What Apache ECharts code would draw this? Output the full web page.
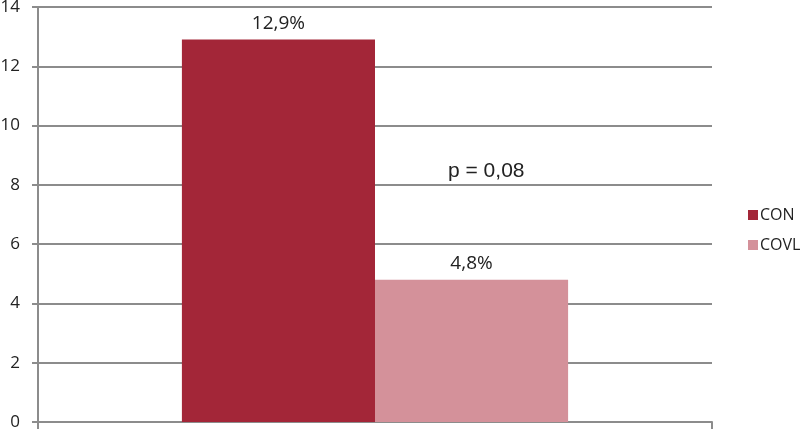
<!DOCTYPE html>
<html>
<head>
<meta charset="utf-8">
<script src="https://cdn.jsdelivr.net/npm/echarts@6/dist/echarts.min.js"></script>
<style>
  html, body { margin: 0; padding: 0; background: #fff; }
  #chart { width: 800px; height: 429px; }
</style>
</head>
<body>
<div id="chart"></div>
<script>
var categories = [''];
var seriesNames = ['CON', 'COVL'];
var conValues = [12.9];
var covlValues = [4.8];
var yTicks = [0, 2, 4, 6, 8, 10, 12, 14];
var pText = 'p = 0,08';

var myChart = echarts.init(document.getElementById('chart'));
var font = 'Open Sans';

function pctLabel(p) {
    return String(p.value).replace('.', ',') + '%';
}

var barLabel = {
    show: true,
    position: 'top',
    distance: 7,
    fontSize: 19,
    color: '#222',
    fontFamily: font,
    formatter: pctLabel
};

var option = {
    animation: false,
    color: ['#a32638', '#d4919a'],
    textStyle: { fontFamily: font },
    grid: {
        left: 38,
        right: 88,
        top: 7,
        bottom: 7,
        containLabel: false,
        outerBoundsMode: 'none'
    },
    legend: {
        orient: 'vertical',
        left: 743,
        top: 202,
        itemWidth: 10,
        itemHeight: 10,
        itemGap: 14,
        icon: 'rect',
        textStyle: { fontSize: 16, color: '#222', fontFamily: font, padding: [0, 0, 0, -3] },
        data: seriesNames
    },
    xAxis: {
        type: 'category',
        data: categories,
        axisLine: { lineStyle: { color: '#8c8c8c', width: 2 } },
        axisTick: { show: true, length: 7, lineStyle: { color: '#8c8c8c', width: 2 } },
        axisLabel: { show: false }
    },
    yAxis: {
        type: 'value',
        min: yTicks[0],
        max: yTicks[yTicks.length - 1],
        interval: 2,
        axisLine: { show: true, lineStyle: { color: '#8c8c8c', width: 2 } },
        axisTick: { show: true, length: 6, lineStyle: { color: '#8c8c8c', width: 2 } },
        axisLabel: { fontSize: 17, color: '#222', margin: 18, fontFamily: font },
        splitLine: { lineStyle: { color: '#8c8c8c', width: 2 } }
    },
    series: [
        {
            name: seriesNames[0],
            type: 'bar',
            data: conValues,
            barGap: 0,
            barCategoryGap: '42.7%',
            label: barLabel
        },
        {
            name: seriesNames[1],
            type: 'bar',
            data: covlValues,
            barGap: 0,
            barCategoryGap: '42.7%',
            label: barLabel
        }
    ],
    graphic: [
        {
            type: 'text',
            left: 448,
            top: 161,
            style: {
                text: pText,
                fontSize: 21,
                fill: '#222',
                fontFamily: 'Liberation Sans'
            }
        }
    ]
};

myChart.setOption(option);
</script>
</body>
</html>
